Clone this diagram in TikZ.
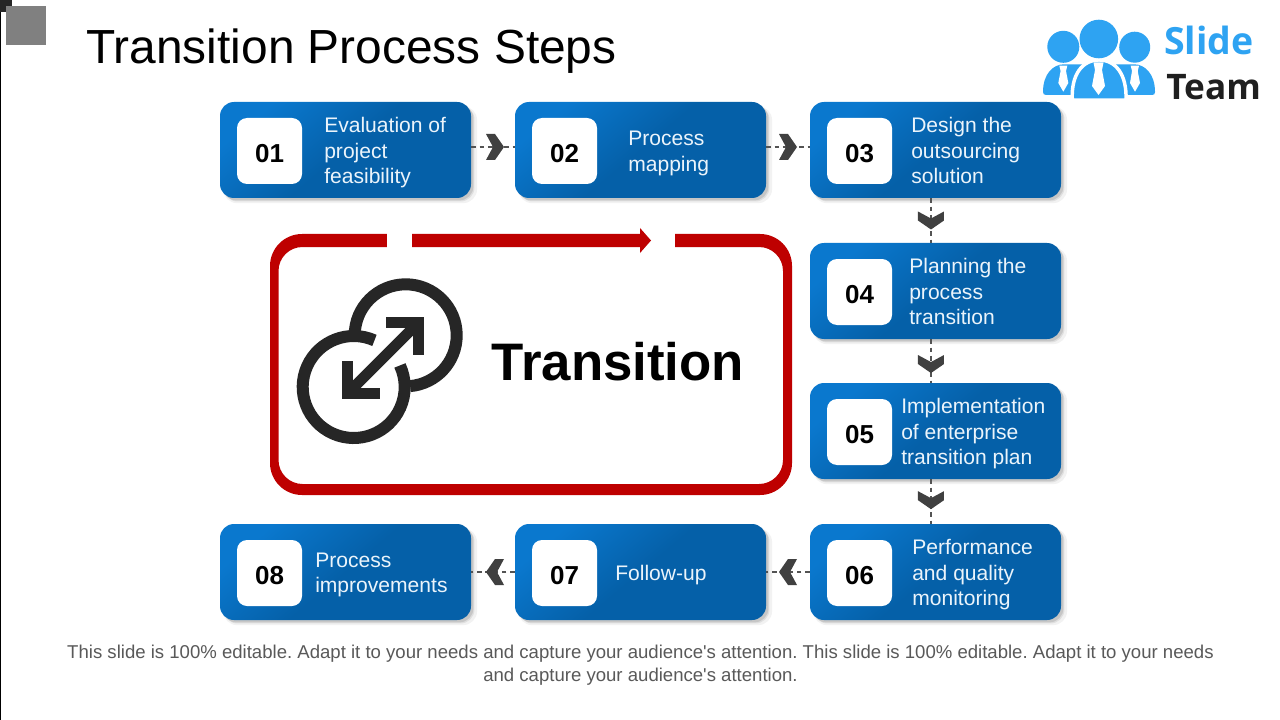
\documentclass[tikz,border=0pt]{standalone}
\usepackage{fontspec}
\setmainfont{Liberation Sans}
\newfontfamily\logofont{Open Sans}
\usetikzlibrary{shadows}
\definecolor{boxdark}{HTML}{0560A8}
\definecolor{boxlight}{HTML}{0A78CE}
\definecolor{chevgray}{HTML}{404040}
\definecolor{framered}{HTML}{BE0000}
\definecolor{iconblack}{HTML}{262626}
\definecolor{logoblue}{HTML}{2EA3F2}
\definecolor{footgray}{HTML}{595959}
\definecolor{cornergray}{HTML}{808080}
\tikzset{
  x=0.75pt, y=0.75pt,
  stepcard/.style={rounded corners=10.5pt, minimum width=188.25pt, minimum height=72pt, inner sep=0pt,
    top color=boxlight, bottom color=boxdark, middle color=boxdark, shading angle=40,
    general shadow={fill=black, opacity=.05, shadow xshift=3.4pt, shadow yshift=-3.4pt, shadow scale=1.012},
    general shadow={fill=black, opacity=.08, shadow xshift=2.6pt, shadow yshift=-2.6pt},
    general shadow={fill=black, opacity=.11, shadow xshift=1.8pt, shadow yshift=-1.8pt}},
  numbox/.style={fill=white, rounded corners=7.5pt, minimum width=48.75pt, minimum height=49.5pt, inner sep=0pt,
    text height=17.5pt, text depth=0pt,
    font=\fontsize{19.5}{22}\selectfont\bfseries, text=black},
  steptext/.style={anchor=west, align=left, inner sep=0pt, text=white!92!boxlight,
    font=\fontsize{15.8}{19.1}\selectfont},
  link/.style={draw=chevgray!90!white, dash pattern=on 3.6pt off 2.6pt, line width=.8pt},
  chev/.pic={\fill[chevgray, solid] (-9,-13) -- (0,-13) -- (9,0) -- (0,13) -- (-9,13) -- (-2,0) -- cycle;},
  iconring/.style={draw=iconblack, line width=9pt},
  iconarrow/.style={draw=iconblack, line width=8.6pt, miter limit=10},
}
\begin{document}
\begin{tikzpicture}
\useasboundingbox (0,0) rectangle (1280,-720);
\fill[white] (0,0) rectangle (1280,-720);
% page furniture
\fill[black!85] (0,0) rectangle (12,-12);
\fill[black] (0,-12) rectangle (1.2,-720);
\fill[cornergray] (6,-6) rectangle (45.5,-45.5);
\node[anchor=base west, inner sep=0pt, font=\fontsize{35.9}{40}\selectfont] (title) at (86,-64) {Transition Process Steps};
% logo
\fill[logoblue] (1043,-92) .. controls (1043,-74) and (1053,-64.3) .. (1064,-64.3) -- (1085,-64.3) -- (1085,-95) -- (1046,-95) .. controls (1044,-95) and (1043,-94) .. (1043,-92) -- cycle;
\fill[logoblue] (1155,-92) .. controls (1155,-74) and (1145,-64.3) .. (1134,-64.3) -- (1113,-64.3) -- (1113,-95) -- (1152,-95) .. controls (1154,-95) and (1155,-94) .. (1155,-92) -- cycle;
\filldraw[draw=white, line width=2.6pt, fill=logoblue] (1072.3,-100) .. controls (1071,-75) and (1082,-60) .. (1099,-60) .. controls (1116,-60) and (1127,-75) .. (1126,-100) -- cycle;
\fill[logoblue] (1063.3,-46.8) circle (16);
\fill[logoblue] (1134.7,-47.2) circle (15.5);
\fill[logoblue] (1098.8,-39) circle (19.3);
\fill[white] (1093.5,-62.5) -- (1103.5,-62.5) -- (1102,-70) -- (1105,-86) -- (1098.5,-95) -- (1092,-86) -- (1095,-70) -- cycle;
\fill[white] (1059.3,-65.7) -- (1067.3,-65.7) -- (1066,-71) -- (1068.3,-83) -- (1063.3,-91.7) -- (1058.3,-83) -- (1060.6,-71) -- cycle;
\fill[white] (1130.7,-65.7) -- (1139,-65.7) -- (1137.7,-71) -- (1140,-83) -- (1135,-91.7) -- (1130,-83) -- (1132,-71) -- cycle;
\node[anchor=base west, inner sep=0pt, text=logoblue, font=\logofont\bfseries\fontsize{28.1}{30}\selectfont] (slide) at (1164,-54.5) {Slide};
\node[anchor=base west, inner sep=0pt, text=black!88, font=\logofont\bfseries\fontsize{26.4}{30}\selectfont] (team) at (1166,-100) {Team};
% red frame
\fill[framered, even odd rule]
  [rounded corners=24pt] (270,-234) rectangle (792,-495)
  [rounded corners=18pt] (278.5,-247) rectangle (783,-484);
\fill[white] (387,-225) rectangle (412,-255);
\fill[white] (640,-225) rectangle (675,-255);
\fill[framered] (640,-234) -- (640,-228) -- (651,-240.5) -- (640,-253) -- (640,-247) -- cycle;
% transition icon
\draw[iconring] (405.7,-335.3) ++(180:51) arc[start angle=180, end angle=-85, radius=51];
\draw[iconring] (353.7,-387) ++(66:51) arc[start angle=66, end angle=385, radius=51];
\draw[iconarrow] (347.7,-361) -- (347.7,-393.3) -- (380,-393.3);
\draw[iconarrow] (386,-322.7) -- (418.3,-322.7) -- (418.3,-355);
\draw[draw=iconblack, line width=8pt] (350,-391) -- (416,-325);
\node[anchor=base west, inner sep=0pt, font=\fontsize{39.6}{44}\selectfont\bfseries] (trans) at (491.5,-380) {Transition};
% step cards
\node[stepcard] (b1) at (345.5,-150) {};
\node[stepcard] (b2) at (640.5,-150) {};
\node[stepcard] (b3) at (935.5,-150) {};
\node[stepcard] (b4) at (935.5,-291) {};
\node[stepcard] (b5) at (935.5,-431) {};
\node[stepcard] (b6) at (935.5,-572) {};
\node[stepcard] (b7) at (640.5,-572) {};
\node[stepcard] (b8) at (345.5,-572) {};
\node[numbox] (n1) at (269.5,-151) {01};
\node[numbox] (n2) at (564.5,-151) {02};
\node[numbox] (n3) at (859.5,-151) {03};
\node[numbox] (n4) at (859.5,-292) {04};
\node[numbox] (n5) at (859.5,-432) {05};
\node[numbox] (n6) at (859.5,-573) {06};
\node[numbox] (n7) at (564.5,-573) {07};
\node[numbox] (n8) at (269.5,-573) {08};
\node[steptext] (t1) at (324,-153) {Evaluation of\\project\\feasibility};
\node[steptext] (t2) at (628,-153.5) {Process\\mapping};
\node[steptext] (t3) at (911,-150.5) {Design the\\outsourcing\\solution};
\node[steptext] (t4) at (909,-291.5) {Planning the\\process\\transition};
\node[steptext] (t5) at (901,-434) {Implementation\\of enterprise\\transition plan};
\node[steptext] (t6) at (912,-575) {Performance\\and quality\\monitoring};
\node[steptext] (t7) at (615,-575) {Follow-up};
\node[steptext] (t8) at (315,-575) {Process\\improvements};
% connectors
\draw[link] ([yshift=2.25pt]b1.east) -- ([yshift=2.25pt]b2.west) pic[pos=.5, xshift=1.5pt]{chev};
\draw[link] ([yshift=2.25pt]b2.east) -- ([yshift=2.25pt]b3.west) pic[pos=.5]{chev};
\draw[link] ([xshift=-3.4pt]b3.south) -- ([xshift=-3.4pt]b4.north) pic[pos=.5, rotate=-90]{chev};
\draw[link] ([xshift=-3.4pt]b4.south) -- ([xshift=-3.4pt]b5.north) pic[pos=.57, rotate=-90]{chev};
\draw[link] ([xshift=-3.4pt]b5.south) -- ([xshift=-3.4pt]b6.north) pic[pos=.47, rotate=-90]{chev};
\draw[link] (b6.west) -- (b7.east) pic[pos=.5, rotate=180]{chev};
\draw[link] (b7.west) -- (b8.east) pic[pos=.5, rotate=180, xshift=-1.5pt]{chev};
% footer
\node[align=center, inner sep=0pt, text=footgray, font=\fontsize{13.93}{17.25}\selectfont\frenchspacing, anchor=base] (foot) at (640.5,-681)
 {This slide is 100\% editable. Adapt it to your needs and capture your audience\textquotesingle s attention. This slide is 100\% editable. Adapt it to your needs\\and capture your audience\textquotesingle s attention.};
\end{tikzpicture}
\end{document}
